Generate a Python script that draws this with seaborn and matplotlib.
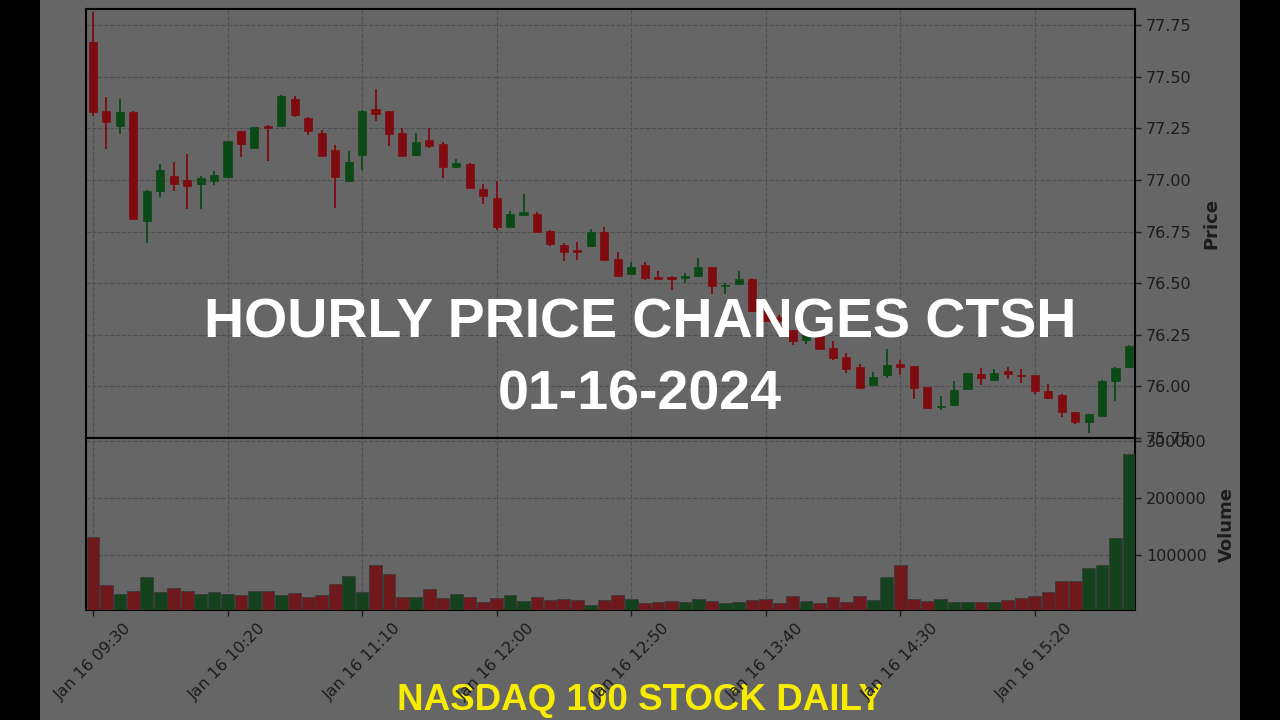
import numpy as np
import pandas as pd
import matplotlib
matplotlib.use("Agg")
import matplotlib.pyplot as plt
from matplotlib.patches import Rectangle
import seaborn as sns

# ---------------- data ----------------
opens = [77.668, 77.335, 77.262, 77.330, 76.802, 76.945, 77.017, 76.998, 76.981, 76.996,
         77.014, 77.235, 77.154, 77.262, 77.262, 77.393, 77.300, 77.227, 77.146, 76.996,
         77.122, 77.345, 77.335, 77.227, 77.122, 77.192, 77.172, 77.064, 77.078, 76.957,
         76.912, 76.772, 76.831, 76.835, 76.754, 76.686, 76.659, 76.681, 76.746, 76.617,
         76.544, 76.586, 76.528, 76.528, 76.525, 76.534, 76.577, 76.485, 76.496, 76.521,
         76.363, 76.335, 76.271, 76.226, 76.242, 76.186, 76.141, 76.092, 76.008, 76.053,
         76.107, 76.099, 75.995, 75.899, 75.911, 75.986, 76.060, 76.032, 76.076, 76.056,
         76.055, 75.976, 75.960, 75.876, 75.826, 75.855, 76.024, 76.092]
highs = [77.816, 77.403, 77.393, 77.335, 76.950, 77.077, 77.087, 77.127, 77.017, 77.044,
         77.190, 77.238, 77.258, 77.267, 77.412, 77.406, 77.306, 77.243, 77.170, 77.141,
         77.337, 77.441, 77.336, 77.254, 77.229, 77.254, 77.183, 77.101, 77.080, 76.980,
         76.996, 76.851, 76.932, 76.844, 76.756, 76.694, 76.702, 76.762, 76.770, 76.650,
         76.601, 76.602, 76.560, 76.536, 76.550, 76.622, 76.580, 76.501, 76.560, 76.525,
         76.370, 76.345, 76.275, 76.270, 76.250, 76.218, 76.161, 76.108, 76.070, 76.181,
         76.129, 76.100, 75.998, 75.952, 76.027, 76.065, 76.089, 76.084, 76.094, 76.084,
         76.057, 76.011, 75.962, 75.878, 75.868, 76.032, 76.092, 76.200]
lows = [77.309, 77.150, 77.225, 76.810, 76.694, 76.916, 76.945, 76.860, 76.860, 76.974,
        77.010, 77.109, 77.150, 77.090, 77.262, 77.304, 77.219, 77.116, 76.864, 76.994,
        77.049, 77.284, 77.167, 77.114, 77.114, 77.154, 77.009, 77.059, 76.957, 76.883,
        76.759, 76.770, 76.829, 76.750, 76.678, 76.606, 76.614, 76.679, 76.610, 76.530,
        76.540, 76.517, 76.518, 76.468, 76.501, 76.530, 76.447, 76.447, 76.490, 76.362,
        76.310, 76.305, 76.199, 76.205, 76.180, 76.130, 76.065, 75.990, 76.000, 76.040,
        76.057, 75.939, 75.893, 75.887, 75.906, 75.985, 76.005, 76.024, 76.036, 76.016,
        75.964, 75.940, 75.853, 75.818, 75.774, 75.850, 75.928, 76.090]
closes = [77.329, 77.279, 77.330, 76.812, 76.945, 77.048, 76.981, 76.972, 77.008, 77.022,
          77.187, 77.175, 77.256, 77.254, 77.405, 77.313, 77.235, 77.116, 77.014, 77.087,
          77.335, 77.322, 77.222, 77.114, 77.185, 77.167, 77.064, 77.080, 76.961, 76.922,
          76.770, 76.835, 76.844, 76.750, 76.691, 76.651, 76.651, 76.746, 76.612, 76.536,
          76.577, 76.525, 76.521, 76.520, 76.535, 76.577, 76.485, 76.493, 76.522, 76.366,
          76.316, 76.315, 76.221, 76.258, 76.183, 76.137, 76.085, 75.992, 76.046, 76.105,
          76.094, 75.992, 75.895, 75.906, 75.984, 76.063, 76.040, 76.065, 76.059, 76.049,
          75.976, 75.944, 75.874, 75.826, 75.866, 76.025, 76.089, 76.194]
volumes = [132000, 47400, 32800, 38000, 62600, 36300, 42100, 38000, 32800, 35100,
           31600, 29800, 38000, 38000, 31000, 34500, 26900, 31000, 49700, 63700,
           36300, 81900, 67200, 26900, 27500, 40300, 24300, 31600, 27500, 18100,
           25100, 29800, 20500, 27500, 22200, 24000, 22200, 13500, 22200, 29800,
           24000, 17000, 18800, 20500, 18800, 24000, 20500, 17000, 18800, 22200,
           24000, 16500, 29200, 19300, 15800, 27500, 18100, 29200, 21000, 61400,
           81900, 24000, 19800, 24000, 18800, 18800, 18800, 18800, 21000, 25800,
           29200, 36300, 54400, 54400, 77700, 83000, 129800, 277000]
tick_labels = ["Jan 16 09:30", "Jan 16 10:20", "Jan 16 11:10", "Jan 16 12:00",
               "Jan 16 12:50", "Jan 16 13:40", "Jan 16 14:30", "Jan 16 15:20"]
price_ticks = [75.75, 76.00, 76.25, 76.50, 76.75, 77.00, 77.25, 77.50, 77.75]
volume_ticks = [100000, 200000, 300000]
title_line1 = "HOURLY PRICE CHANGES CTSH"
title_line2 = "01-16-2024"
footer = "NASDAQ 100 STOCK DAILY"

# ---------------- style ----------------
BG = "#666666"
RED = "#7e0b10"
GREEN = "#0b4a17"
GRID = "#4f4f4f"
TXT = "#1c1c1c"

sns.set_theme(style="ticks")
plt.rcParams["font.family"] = ["DejaVu Sans"]
plt.rcParams["axes.facecolor"] = BG
plt.rcParams["figure.facecolor"] = BG

df = pd.DataFrame({"o": opens, "h": highs, "l": lows, "c": closes, "v": volumes})
df["idx"] = np.arange(len(df))
df["dir"] = np.where(df["c"] >= df["o"], "up", "down")
colors = np.where(df["dir"] == "up", GREEN, RED)

fig = plt.figure(figsize=(12.8, 7.2), dpi=100)
W, H = 1280, 720
axp = fig.add_axes([86 / W, 1 - 438 / H, (1135 - 86) / W, (438 - 9.3) / H])
axv = fig.add_axes([86 / W, 1 - 610 / H, (1135 - 86) / W, (610 - 438) / H], sharex=None)

# candles
axp.vlines(df["idx"], df["l"], df["h"], colors=colors, linewidth=1.3, zorder=2)
body = np.maximum((df["c"] - df["o"]).abs(), 0.004)
axp.bar(df["idx"], body, bottom=np.minimum(df["o"], df["c"]), width=0.6,
        color=colors, edgecolor=colors, linewidth=0.5, zorder=3)

# volume
sns.barplot(data=df, x="idx", y="v", hue="dir", palette={"up": GREEN, "down": RED},
            dodge=False, width=0.95, edgecolor="#3a3a3a", linewidth=0.6,
            legend=False, ax=axv, zorder=3)

n = len(df)
for ax in (axp, axv):
    ax.set_facecolor(BG)
    ax.set_xlim(-0.52, n - 1 + 0.45)
    ax.set_xticks(np.arange(0, n, 10))
    ax.grid(True, which="major", linestyle="--", color=GRID, linewidth=0.8, zorder=0)
    ax.set_axisbelow(True)
    for s in ax.spines.values():
        s.set_color("black")
        s.set_linewidth(1.5)
        s.set_visible(True)
    ax.yaxis.tick_right()
    ax.yaxis.set_label_position("right")
    ax.tick_params(axis="y", colors=TXT, labelsize=11.5, length=4, width=1, pad=4,
                   left=False, right=True, labelleft=False, labelright=True)
    ax.set_xlabel("")

axp.set_ylim(75.758, 77.827)
axp.set_yticks(price_ticks)
axp.set_yticklabels([f"{t:.2f}" for t in price_ticks])
axp.tick_params(axis="x", bottom=False, labelbottom=False)
axp.set_ylabel("Price", fontsize=13, fontweight="bold", color=TXT, labelpad=8)

axv.set_ylim(0.3 * min(volumes), 1.1 * max(volumes))
axv.set_yticks(volume_ticks)
axv.set_yticklabels([str(t) for t in volume_ticks])
axv.set_xticklabels(tick_labels, rotation=45, fontsize=11.5, color=TXT)
axv.tick_params(axis="x", colors=TXT, length=4, width=1)
axv.set_ylabel("Volume", fontsize=13, fontweight="bold", color=TXT, labelpad=8)

# overlay texts
fig.text(0.5, 1 - 338 / H, title_line1, ha="center", va="baseline", color="white",
         fontsize=40, fontweight="bold", family=["Liberation Sans", "DejaVu Sans"], zorder=10)
fig.text(0.5, 1 - 410 / H, title_line2, ha="center", va="baseline", color="white",
         fontsize=40, fontweight="bold", family=["Liberation Sans", "DejaVu Sans"], zorder=10)
fig.text(0.5, 1 - 710 / H, footer, ha="center", va="baseline", color="#f7ec00",
         fontsize=26.5, fontweight="bold", family=["Liberation Sans", "DejaVu Sans"], zorder=-1)

# black side bars
fig.patches.append(Rectangle((0, 0), 40 / W, 1, transform=fig.transFigure,
                             facecolor="black", edgecolor="none", zorder=20))
fig.patches.append(Rectangle((1240 / W, 0), 40 / W, 1, transform=fig.transFigure,
                             facecolor="black", edgecolor="none", zorder=20))

fig.savefig("out.png", dpi=100, facecolor=BG)
